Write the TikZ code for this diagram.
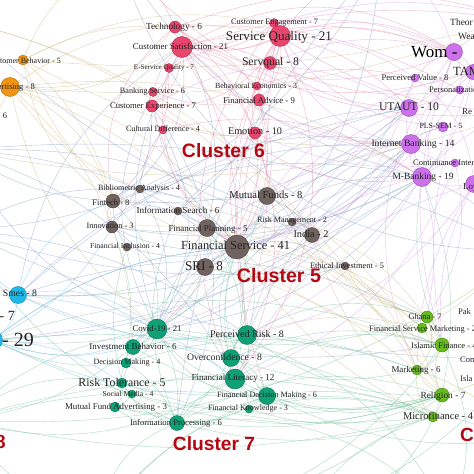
\documentclass[tikz,border=0pt]{standalone}
\usepackage{fontspec}
\setmainfont{Liberation Serif}
\newfontfamily\clfont{Liberation Sans}
\usepackage{graphicx}
\pgfdeclarelayer{bg}
\pgfsetlayers{bg,main}
\definecolor{c6}{RGB}{233,70,110}
\definecolor{cP}{RGB}{205,112,235}
\definecolor{cO}{RGB}{240,148,20}
\definecolor{c5}{RGB}{112,98,94}
\definecolor{cB}{RGB}{30,185,235}
\definecolor{c7}{RGB}{16,160,118}
\definecolor{cG}{RGB}{102,186,30}
\definecolor{clred}{RGB}{180,8,18}
\definecolor{labc}{RGB}{35,35,35}
\definecolor{ep}{RGB}{232,140,170}
\definecolor{ev}{RGB}{212,160,230}
\definecolor{eb}{RGB}{140,162,200}
\definecolor{et}{RGB}{205,188,135}
\definecolor{eg}{RGB}{120,196,158}
\definecolor{ec}{RGB}{110,196,235}
\definecolor{egr}{RGB}{168,200,105}
\tikzset{
  gn/.style={circle,inner sep=0pt,line width=0.4pt},
  lab/.style={inner sep=0pt,text=labc},
  cutlab/.style={inner sep=0pt,text=labc},
  cl/.style={inner sep=0pt,text=clred,font=\clfont\bfseries},
  edge/.style={line width=0.42pt,opacity=0.6}
}
\newcommand\gnode[5]{\node[gn,fill=#5,draw=#5!72!black,minimum size=#4pt] (#1) at (#2,#3) {};}
\newcommand\glab[5]{\node[lab] (#1) at (#2,#3) {\resizebox{#4pt}{!}{\strut #5}};}
\begin{document}
\begin{tikzpicture}[x=1pt,y=-1pt]
\useasboundingbox (0,0) rectangle (474,474);
\begin{scope}
\clip (0,0) rectangle (474,474);
% cluster 6
\gnode{tech}{175}{27}{12}{c6}
\gnode{csat}{182}{47}{21}{c6}
\gnode{esq}{169}{68}{9}{c6}
\gnode{bank}{153}{92}{9}{c6}
\gnode{cexp}{152}{106}{12}{c6}
\gnode{cult}{163}{130}{8}{c6}
\gnode{ceng}{274}{23}{9}{c6}
\gnode{sq}{280}{36}{21}{c6}
\gnode{servq}{270}{63}{13}{c6}
\gnode{beco}{257}{86}{8}{c6}
\gnode{fadv}{259}{100}{12}{c6}
\gnode{emo}{255}{133}{12}{c6}
% purple
\gnode{wom}{454}{52}{17}{cP}
\gnode{tam}{473}{72}{15}{cP}
\gnode{pv}{415}{78}{8}{cP}
\gnode{pers}{460}{90}{8}{cP}
\gnode{utaut}{409}{108}{17}{cP}
\gnode{pls}{443}{127}{10}{cP}
\gnode{ib}{411}{144}{19}{cP}
\gnode{cont}{455}{163}{8}{cP}
\gnode{mb}{422}{177}{19}{cP}
\gnode{loya}{474}{184}{17}{cP}
% orange
\gnode{cbeh}{23}{60}{10}{cO}
\gnode{adv}{10}{87}{19}{cO}
% brown
\gnode{bib}{140}{189}{8}{c5}
\gnode{fin}{113}{201}{14}{c5}
\gnode{isea}{178}{211}{8}{c5}
\gnode{innov}{112}{227}{12}{c5}
\gnode{fplan}{207}{228}{17}{c5}
\gnode{mf}{267}{196}{17}{c5}
\gnode{rm}{292}{222}{8}{c5}
\gnode{india}{312}{235}{15}{c5}
\gnode{finc}{127}{247}{8}{c5}
\gnode{fs}{237}{247}{24}{c5}
\gnode{sri}{205}{267}{17}{c5}
\gnode{eth}{345}{266}{8}{c5}
% cyan
\gnode{smes}{18}{295}{17}{cB}
\gnode{big}{-8}{340}{21}{cB}
% teal
\gnode{covid}{157}{329}{20}{c7}
\gnode{invb}{133}{347}{15}{c7}
\gnode{prisk}{247}{335}{19}{c7}
\gnode{overc}{231}{358}{17}{c7}
\gnode{dm}{126}{363}{10}{c7}
\gnode{rt}{122}{383}{10}{c7}
\gnode{sm}{132}{394}{8}{c7}
\gnode{mfa}{115}{407}{10}{c7}
\gnode{ip}{177}{423}{15}{c7}
\gnode{fl}{235}{379}{20}{c7}
\gnode{fdm}{267}{396}{17}{c7}
\gnode{fk}{249}{409}{8}{c7}
% green
\gnode{ghana}{427}{317}{12}{cG}
\gnode{fsm}{422}{328}{10}{cG}
\gnode{islf}{442}{345}{14}{cG}
\gnode{mkt}{417}{370}{10}{cG}
\gnode{rel}{442}{395}{14}{cG}
\gnode{micro}{433}{417}{10}{cG}
% off-frame ends
\coordinate (oT1) at (120,-40);
\coordinate (oT2) at (380,-40);
\coordinate (oL1) at (-40,150);
\coordinate (oL2) at (-40,230);
\coordinate (oL3) at (-40,420);
\coordinate (oL4) at (-40,20);
\coordinate (oR1) at (520,20);
\coordinate (oR2) at (520,112);
\coordinate (oR3) at (520,250);
\coordinate (oR4) at (520,360);
\coordinate (oR5) at (520,440);
\coordinate (oB1) at (100,520);
\coordinate (oB2) at (300,520);
\coordinate (oB3) at (450,520);
% labels
\glab{tech-l}{174}{27}{56}{Technology - 6}
\glab{csat-l}{180.5}{47}{95}{Customer Satisfaction - 21}
\glab{esq-l}{164}{68}{60}{E-Service Quality - 7}
\glab{bank-l}{152.5}{92}{65}{Banking Service - 6}
\glab{cexp-l}{153}{106}{86}{Customer Experience - 7}
\glab{cult-l}{163}{130}{74}{Cultural Difference - 4}
\glab{ceng-l}{274.5}{23}{87}{Customer Engagement - 7}
\glab{sq-l}{279}{37}{106}{Service Quality - 21}
\glab{servq-l}{270.5}{63}{57}{Servqual - 8}
\glab{beco-l}{256}{87}{82}{Behavioral Economics - 3}
\glab{fadv-l}{259}{101}{72}{Financial Advice - 9}
\glab{emo-l}{255}{132}{54}{Emotion - 10}
\glab{pv-l}{415}{78}{67}{Perceived Value - 8}
\glab{utaut-l}{409}{108}{60}{UTAUT - 10}
\glab{pls-l}{441}{127}{43}{PLS-SEM - 5}
\glab{ib-l}{413}{144}{83}{Internet Banking - 14}
\glab{mb-l}{423}{177}{61}{M-Banking - 19}
\glab{bib-l}{139}{189}{82}{Bibliometric Analysis - 4}
\glab{fin-l}{111}{203}{37}{Fintech - 8}
\glab{isea-l}{178}{211}{83}{Information Search - 6}
\glab{innov-l}{110}{227}{47}{Innovation - 3}
\glab{fplan-l}{208}{229}{79}{Financial Planning - 5}
\glab{mf-l}{266}{196}{73}{Mutual Funds - 8}
\glab{rm-l}{292}{221}{70}{Risk Management - 2}
\glab{india-l}{311}{235}{35}{India - 2}
\glab{finc-l}{125}{247}{70}{Financial Inclusion - 4}
\glab{fs-l}{235.5}{247}{109}{Financial Service - 41}
\glab{sri-l}{204}{267}{38}{SRI - 8}
\glab{eth-l}{347}{266}{74}{Ethical Investment - 5}
\glab{smes-l}{20}{294}{34}{Smes - 8}
\glab{covid-l}{157}{329}{49}{Covid-19 - 21}
\glab{invb-l}{133}{347}{87}{Investment Behavior - 6}
\glab{prisk-l}{247}{335}{74}{Perceived Risk - 8}
\glab{overc-l}{224.5}{358}{75}{Overconfidence - 8}
\glab{dm-l}{127}{363}{67}{Decision Making - 4}
\glab{rt-l}{122}{384}{87}{Risk Tolerance - 5}
\glab{sm-l}{128}{395}{51}{Social Media - 4}
\glab{mfa-l}{116}{407}{102}{Mutual Fund Advertising - 3}
\glab{ip-l}{176}{423}{92}{Information Processing - 6}
\glab{fl-l}{233}{378}{83}{Financial Literacy - 12}
\glab{fdm-l}{267}{396}{100}{Financial Decision Making - 6}
\glab{fk-l}{248}{409}{80}{Financial Knowledge - 3}
\glab{ghana-l}{425}{317}{33}{Ghana - 7}
\glab{mkt-l}{416}{370}{49}{Marketing - 6}
\glab{rel-l}{443}{396}{45}{Religion - 7}
\glab{micro-l}{438}{417}{70}{Microfinance - 4}
% labels cut by the frame, as in the reference
\node[cutlab,anchor=east,font=\fontsize{8}{9}\selectfont] (cbeh-l) at (61,61) {Customer Behavior - 5};
\node[cutlab,anchor=east,font=\fontsize{8.5}{10}\selectfont] (adv-l) at (35,87) {Advertising - 8};
\node[cutlab,font=\fontsize{8.5}{10}\selectfont] (six) at (5,116) {6};
\node[cutlab,anchor=east,font=\fontsize{14}{16}\selectfont] (seven) at (15,316) {- 7};
\node[cutlab,anchor=east,font=\fontsize{20}{22}\selectfont] (big-l) at (34,340) {- 29};
\node[cutlab,anchor=west,font=\fontsize{9.5}{11}\selectfont] (theo) at (450,22) {Theor};
\node[cutlab,anchor=west,font=\fontsize{9.5}{11}\selectfont] (wea) at (458,36) {Wea};
\node[cutlab,anchor=west,text=black,font=\fontsize{17}{19}\selectfont] (wom-l) at (411,52) {Wom -};
\node[cutlab,anchor=west,font=\fontsize{12.5}{14}\selectfont] (tam-l) at (453,71) {TAM};
\node[cutlab,anchor=west,font=\fontsize{8.5}{10}\selectfont] (pers-l) at (429,90) {Personalization};
\node[cutlab,anchor=west,font=\fontsize{9}{10}\selectfont] (re) at (462,112) {Re};
\node[cutlab,anchor=west,font=\fontsize{8.5}{10}\selectfont] (cont-l) at (413,163) {Continuance Intention};
\node[cutlab,anchor=west,font=\fontsize{9}{10}\selectfont] (loya-l) at (463,187) {Loyalty};
\node[cutlab,anchor=west,font=\fontsize{8.4}{10}\selectfont] (fsm-l) at (369,329) {Financial Service Marketing - 2};
\node[cutlab,anchor=west,font=\fontsize{8.5}{10}\selectfont] (islf-l) at (411,346) {Islamic Finance - 4};
\node[cutlab,anchor=west,font=\fontsize{8.5}{10}\selectfont] (pak) at (458,312) {Pak};
\node[cutlab,anchor=west,font=\fontsize{8.5}{10}\selectfont] (com) at (460,360) {Com};
\node[cutlab,anchor=west,font=\fontsize{8.5}{10}\selectfont] (isla) at (460,379) {Isla};
% cluster titles
\node[cl] (cl6) at (223.5,153) {\resizebox{83pt}{!}{\strut Cluster 6}};
\node[cl] (cl5) at (279,278) {\resizebox{84pt}{!}{\strut Cluster 5}};
\node[cl] (cl7) at (214,446) {\resizebox{82pt}{!}{\strut Cluster 7}};
\node[cl,anchor=east,font=\clfont\bfseries\fontsize{19}{21}\selectfont] (cl8) at (6,442) {Cluster 8};
\node[cl,anchor=west,font=\clfont\bfseries\fontsize{19}{21}\selectfont] (clr) at (460,435) {Cluster};
\end{scope}
\begin{pgfonlayer}{bg}
\fill[white] (0,0) rectangle (474,474);
\clip (0,0) rectangle (474,474);
\foreach \a/\b/\c/\d in {
tech/csat/ep/20, csat/sq/ep/-10, csat/esq/ep/10, csat/bank/ep/-10, csat/cexp/ep/15,
sq/servq/ep/10, sq/ceng/ep/-10, sq/fadv/ep/15, servq/csat/ep/-10, esq/bank/ep/15,
cexp/bank/ep/-20, csat/emo/ep/10, sq/beco/ep/-10, sq/emo/ep/-15, csat/fadv/ep/20,
ceng/csat/ep/15, tech/sq/ep/-20, cult/csat/ep/10, cexp/emo/ep/-15, sq/cexp/ep/20,
ceng/servq/ep/10, servq/fadv/ep/-15, csat/beco/ep/10, bank/fadv/ep/-10, tech/emo/ep/10,
sq/wom/ep/15, csat/wom/ep/20, ceng/wom/ev/10, servq/utaut/ep/-10, sq/ib/ev/-20,
csat/mb/ep/-25, sq/pv/ev/10, sq/tam/ep/15, fadv/ib/ev/-10, csat/ib/ep/-15,
emo/mb/ev/10, servq/pers/ep/-10, sq/pls/ev/-15, csat/utaut/ep/20, tech/oR1/ep/12,
csat/oR1/ep/8, ceng/oR1/ev/10, sq/oR2/ep/-10, servq/wom/ev/12, beco/pv/ep/10,
esq/wom/ep/15, cexp/utaut/ev/20, emo/cont/ev/-10, cult/mb/ep/15, tech/pers/ep/10,
csat/fs/ep/10, sq/fs/ep/-10, emo/fs/ep/10, fadv/fs/ep/15, cexp/fs/eb/-10,
bank/fs/ep/-15, fadv/mf/ep/10, emo/india/ep/-10, csat/fin/eb/20, sq/isea/eb/15,
cult/bib/eb/-10, csat/covid/eb/-15, sq/prisk/ep/-10, emo/fl/ep/15, beco/overc/ep/10,
emo/fdm/ep/-10, cexp/ip/eb/20, tech/invb/eb/25, sq/fl/ep/20,
tech/cbeh/et/-10, csat/adv/et/10, sq/adv/et/-15, ceng/cbeh/et/-12, adv/oR1/et/-8, cbeh/oR1/et/-6,
wom/tam/ev/10, wom/pv/ev/-10, wom/utaut/ev/15, utaut/ib/ev/-10, utaut/mb/ev/20,
ib/mb/ev/-15, mb/cont/ev/10, mb/loya/ev/-10, ib/pls/ev/10, tam/ib/ev/-15,
tam/mb/ev/10, pv/loya/ev/15, pers/wom/ev/-10, pls/mb/ev/15, utaut/tam/ev/-10,
cont/ib/ev/10, wom/oR1/ev/10, tam/oR2/ev/-10, mb/oR2/ev/10,
mb/fs/eb/-15, ib/fs/eb/10, utaut/fs/ev/-10, mb/fin/eb/-10, ib/innov/eb/15,
wom/fs/ev/20, ib/mf/ev/-10, pv/sri/eb/15, mb/india/ev/-10, utaut/bib/eb/20,
mb/covid/eb/15, ib/prisk/eb/-10, utaut/covid/eb/-20, mb/prisk/ev/10, loya/fl/ev/-15,
mb/islf/eg/-10, ib/ghana/ev/10, wom/mkt/ev/-20, mb/rel/eg/10, loya/islf/ev/-10, cont/ghana/ev/15,
ib/smes/eb/-15, mb/big/eb/10, ib/big/eb/20, utaut/smes/eb/-10,
fs/sri/eb/10, fs/mf/eb/-10, fs/fplan/eb/15, fs/isea/eb/-15, fs/india/eb/10,
fs/rm/eb/-10, fs/eth/eb/15, fs/fin/eb/-10, fs/innov/eb/10, fs/bib/eb/-15,
fs/finc/eb/10, fin/innov/eb/-20, fin/bib/eb/15, sri/eth/eb/-10, mf/rm/eb/10,
isea/fplan/eb/-10, sri/mf/eb/15, fin/finc/eb/-10, india/rm/eb/-15, mf/india/eb/10,
fs/covid/eg/10, fs/fl/eg/-10, fs/prisk/eg/15, fs/overc/eg/-15, sri/covid/eg/10,
fs/invb/eg/-10, fs/ip/eg/20, mf/prisk/eg/-10, fplan/fl/eg/15, fs/fdm/eg/-20,
fin/covid/eg/15, isea/ip/eg/-15, innov/dm/eg/10, finc/rt/eg/-10, bib/covid/eb/15,
fs/islf/et/-10, fs/ghana/et/10, eth/islf/et/-15, fs/rel/et/15, fs/micro/et/-10,
fs/fsm/et/10, india/micro/et/-10, sri/rel/et/10, mf/ghana/et/-15, fin/mkt/et/20, innov/islf/et/15,
fs/smes/eb/10, fin/smes/ec/-15, fs/big/eb/-10, innov/big/ec/10,
fs/adv/et/-10, fin/cbeh/et/15, innov/adv/et/-20, bib/adv/et/10,
covid/invb/eg/10, covid/prisk/eg/-10, covid/dm/eg/15, covid/rt/eg/-10, covid/ip/eg/10,
prisk/overc/eg/-15, prisk/fl/eg/15, fl/fdm/eg/-10, fl/fk/eg/10, overc/fl/eg/-10,
rt/dm/eg/10, rt/sm/eg/-10, sm/mfa/eg/10, mfa/ip/eg/-15, ip/fl/eg/10,
invb/dm/eg/-10, rt/mfa/eg/15, ip/fdm/eg/-10, overc/fdm/eg/15, covid/fl/eg/-15,
dm/ip/eg/10, covid/fdm/eg/-20, invb/fl/eg/15, rt/ip/eg/-15, sm/fl/eg/10, mfa/fdm/eg/-10,
fl/rel/eg/-15, fdm/micro/eg/10, ip/micro/eg/-10, fl/islf/eg/15, overc/mkt/eg/-10,
ip/rel/eg/15, covid/ghana/eg/-10, rt/micro/eg/-8, mfa/rel/eg/-10, fk/micro/eg/10,
invb/mkt/eg/10, sm/rel/eg/-12, prisk/fsm/et/10,
covid/smes/ec/-15, invb/big/ec/10, rt/big/ec/-10, covid/big/ec/15, dm/big/eg/10,
ghana/fsm/egr/10, fsm/islf/egr/-10, islf/mkt/egr/15, mkt/rel/egr/-10, rel/micro/egr/10,
islf/rel/egr/-15, ghana/islf/egr/10, mkt/micro/egr/-15, ghana/mkt/egr/20,
ghana/oR3/egr/-5, islf/oR4/egr/5, rel/oR4/egr/-5, mkt/oR5/egr/10, fsm/oR3/et/-5,
smes/big/ec/15,
covid/oL3/eg/-10, fl/oL3/eg/15, ip/oB1/eg/-20, rel/oB2/eg/20, fdm/oR5/eg/-10,
invb/oL3/eg/10, micro/oB1/eg/-25, rt/oL3/eg/-15, fs/oL1/eb/-10, fin/oL1/eb/10,
bib/oL2/eb/-10, smes/oL2/ec/10, big/oL3/ec/-10, adv/oL1/et/10, cbeh/oT1/et/15,
tech/oT1/ep/-10, sq/oT2/ep/10, wom/oT2/ev/-15, mb/oR3/eb/10, islf/oB3/eg/15,
oL1/oR3/eb/10, oL2/oR4/eb/-8, oL3/oR5/eg/12, oL1/oR2/et/-10, oB1/oR4/eg/-20,
oB2/oL3/eg/25, oT1/oR3/eb/-25, oL2/oT2/eb/-20,
adv/mb/et/12, cbeh/ib/et/-10, smes/mb/eb/-12, big/fs/ec/10, big/ib/eb/-15, big/islf/eg/12,
smes/islf/eb/-10, invb/rel/eg/-14, dm/mkt/eg/12, tech/wom/ep/-18, csat/tam/ep/-14,
adv/fs/et/16, adv/covid/et/-12, cbeh/fs/et/-18, adv/invb/et/15, cbeh/fin/et/10,
oL4/mf/et/10, oL4/india/eb/-8, oL4/eth/et/12, oL1/india/eb/10, oL2/eth/eb/-8,
oL1/covid/eb/-12, oL2/prisk/eb/10, oL1/fl/eb/14, smes/prisk/ec/-10, smes/fl/ec/10,
big/fdm/ec/-8, big/micro/eg/10, big/rel/eg/-12, smes/ghana/eb/14, innov/mb/eb/-12,
bib/ib/eb/12, fin/utaut/eb/-14, isea/utaut/eb/15, fplan/mb/eb/-10, rm/ib/eb/12,
cult/fs/ep/-15, cult/covid/eb/18, bank/covid/eb/-18, esq/fin/ep/15, tech/fin/ep/-20,
cexp/innov/eb/12, csat/smes/eb/-15, tech/adv/et/20, oT1/oR2/ep/-18, oT1/mb/eb/-14,
oT2/covid/eb/18, oT2/ip/eb/-12, ceng/fl/ep/-20, servq/covid/ep/16, beco/fs/ep/-12,
eth/ghana/et/-12, eth/mkt/et/10, rm/islf/et/14, india/ghana/et/-14, mf/rel/et/12,
prisk/rel/eg/-12, prisk/ghana/eg/15, fdm/rel/eg/-10, overc/islf/eg/12, fk/rel/eg/-14,
oB1/rel/eg/-12, oB1/islf/eg/-18, oB2/micro/eg/14, oB1/fdm/eg/10, oL3/micro/eg/-8,
oL3/fdm/eg/6, oL3/ghana/eg/-10, oL2/ip/eg/-10, oB3/ip/eg/-18, oB3/covid/eg/-20,
wom/islf/ev/-12, pers/fs/ev/14, pls/covid/eb/-12, cont/fl/ev/16, loya/mkt/ev/-10,
tam/fs/ev/-16, pv/covid/ev/18, utaut/prisk/ev/-12, loya/prisk/ev/14, tam/islf/ev/-10}
 {
  \pgfmathsetmacro\dd{1.5*\d}
  \draw[edge,draw=\c] (\a) to[bend left=\dd] (\b);
 }
\end{pgfonlayer}
\end{tikzpicture}
\end{document}
